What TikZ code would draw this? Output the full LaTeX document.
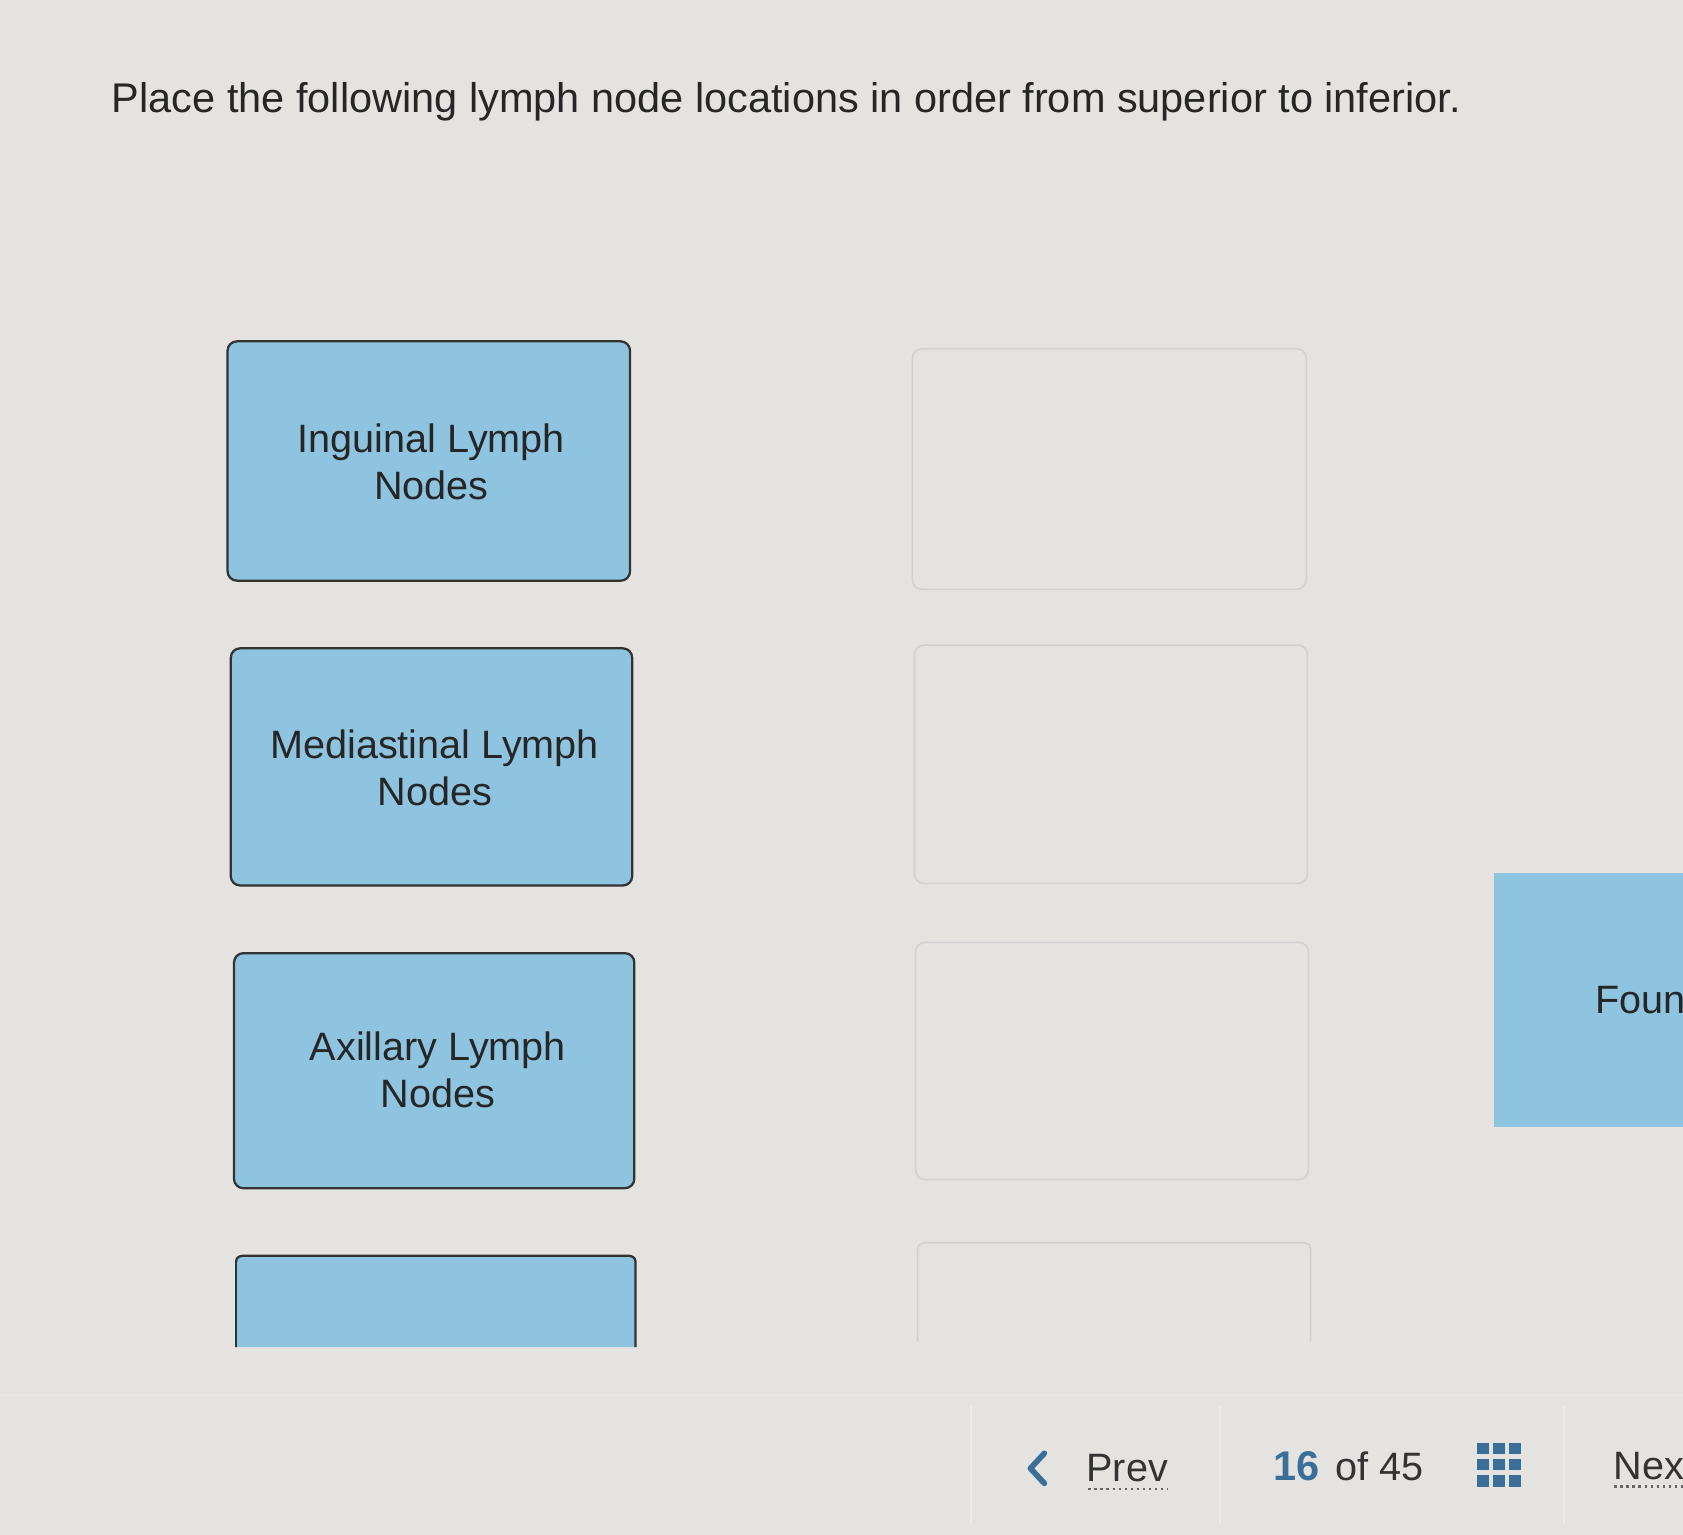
\documentclass[tikz,border=0pt]{standalone}
\usepackage{fontspec}
\setmainfont{Liberation Sans}
\begin{document}
\begin{tikzpicture}[x=0.02cm,y=-0.02cm,
  card/.style={draw=black!80,line width=1.2pt,fill=cardblue,rounded corners=5pt},
  slot/.style={draw=black!18,line width=0.8pt,rounded corners=5pt},
  lbl/.style={font=\fontsize{21}{25}\selectfont,text=black!85,align=center},
  nav/.style={font=\fontsize{21}{25}\selectfont,text=black!80}]
\definecolor{cardblue}{HTML}{8EC4E0}
\definecolor{bg}{HTML}{E4E3E0}
\definecolor{navblue}{HTML}{3A6F9A}
\useasboundingbox (0,0) rectangle (1568,1430);
\fill[bg] (0,0) rectangle (1568,1430);
\node[anchor=west,font=\fontsize{22}{26}\selectfont,text=black!85] (title) at (98,95) {Place the following lymph node locations in order from superior to inferior.};
\draw[card] (212,318) rectangle (587,541);
\node[lbl] (c1) at (402,430) {Inguinal Lymph\\Nodes};
\draw[card] (215,604) rectangle (589,825);
\node[lbl] (c2) at (405,715) {Mediastinal Lymph\\Nodes};
\draw[card] (218,888) rectangle (591,1107);
\node[lbl] (c3) at (408,997) {Axillary Lymph\\Nodes};
\draw[card,rounded corners=0pt] (220,1255) -- (220,1175) to[out=90,in=180] (226,1170) -- (586,1170) to[out=0,in=90] (592,1175) -- (592,1255);
\fill[cardblue] (221,1176) rectangle (591,1255);
\draw[slot] (850,325) rectangle (1217,549);
\draw[slot] (852,601) rectangle (1218,823);
\draw[slot] (853,878) rectangle (1219,1099);
\draw[slot,rounded corners=0pt] (855,1250) -- (855,1163) to[out=90,in=180] (860,1158) -- (1216,1158) to[out=0,in=90] (1221,1163) -- (1221,1250);
\fill[cardblue] (1392,813) rectangle (1568,1050);
\node[lbl,anchor=west,inner sep=0pt] (c4) at (1486,932) {Foun};
\draw[black!10,line width=1pt] (0,1300) -- (1568,1300);
\draw[black!8,line width=1pt] (905,1310) -- (905,1420) (1137,1310) -- (1137,1420) (1457,1310) -- (1457,1420);
\draw[navblue,line width=3pt,line cap=round,line join=round] (973,1354) -- (960,1368) -- (973,1382);
\node[nav,anchor=west] (prev) at (1006,1368) {Prev};
\draw[black!60,dotted,line width=1.2pt] (1014,1387) -- (1088,1387);
\node[anchor=west,font=\fontsize{22}{26}\selectfont\bfseries,text=navblue] (num) at (1180,1366) {16};
\node[nav,anchor=west] (of) at (1238,1366) {of 45};
\foreach \i in {0,1,2}{\foreach \j in {0,1,2}{
  \fill[navblue] (1376+\i*15,1344+\j*15) rectangle ++(11,11);}}
\node[nav,anchor=west,inner sep=0pt] (next) at (1503,1366) {Nex};
\draw[black!60,dotted,line width=1.2pt] (1504,1385) -- (1568,1385);
\end{tikzpicture}
\end{document}
